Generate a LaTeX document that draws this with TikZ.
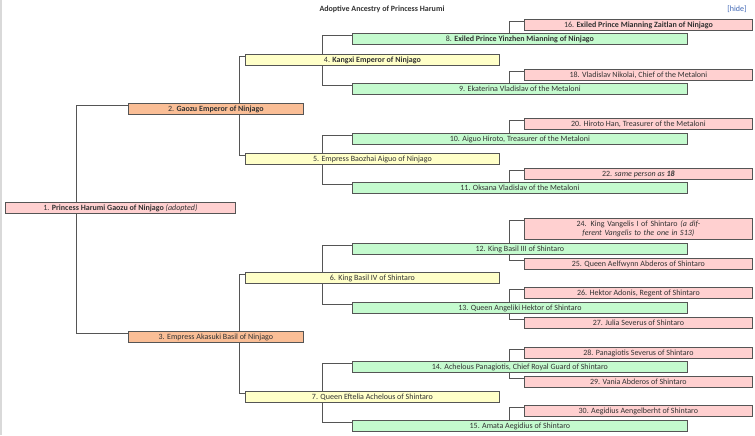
\documentclass[tikz,border=0pt]{standalone}
\usepackage{fontspec}
\setmainfont{Carlito}
\usetikzlibrary{backgrounds}
\definecolor{pinkbox}{RGB}{255,208,208}
\definecolor{orangebox}{RGB}{250,190,150}
\definecolor{yellowbox}{RGB}{255,255,200}
\definecolor{greenbox}{RGB}{196,250,206}
\definecolor{edge}{RGB}{85,85,85}
\definecolor{txt}{RGB}{50,50,50}
\definecolor{hidelink}{RGB}{60,100,180}
\tikzset{
  gen/.style={draw=edge, line width=0.6pt, anchor=north west, inner sep=0pt,
    minimum height=8.6pt, text=txt, font=\fontsize{6}{7}\selectfont},
  gen1/.style={gen, fill=pinkbox, minimum width=172.5pt},
  gen2/.style={gen, fill=orangebox, minimum width=131.25pt},
  gen3/.style={gen, fill=yellowbox, minimum width=190.5pt},
  gen4/.style={gen, fill=greenbox, minimum width=251.25pt},
  gen5/.style={gen, fill=pinkbox, minimum width=171pt},
  link/.style={draw=edge, line width=0.6pt}
}

\begin{document}
\begin{tikzpicture}[x=0.75pt,y=-0.75pt]
   \useasboundingbox (0,0) rectangle (755,435);
   \fill[black!15] (0,0) rectangle (2,435);

   \node[font=\fontsize{6}{7}\selectfont\bfseries, text=txt] (title) at (382,9) {Adoptive Ancestry of Princess Harumi};
   \node[font=\fontsize{6}{7}\selectfont, text=hidelink] (hide) at (737,9) {[hide]};

   \node[gen1] (n1) at (5,202) {1. \textbf{Princess Harumi Gaozu of Ninjago} \textit{(adopted)}};

   \node[gen2] (n2) at (128,103) {2. \textbf{Gaozu Emperor of Ninjago}};
   \node[gen2] (n3) at (128,331) {3. Empress Akasuki Basil of Ninjago};

   \node[gen3] (n4) at (245,54) {4. \textbf{Kangxi Emperor of Ninjago}};
   \node[gen3] (n5) at (245,153) {5. Empress Baozhai Aiguo of Ninjago};
   \node[gen3] (n6) at (245,272) {6. King Basil IV of Shintaro};
   \node[gen3] (n7) at (245,391) {7. Queen Eftelia Achelous of Shintaro};

   \node[gen4] (n8) at (352,33) {8. \textbf{Exiled Prince Yinzhen Mianning of Ninjago}};
   \node[gen4] (n9) at (352,83) {9. Ekaterina Vladislav of the Metaloni};
   \node[gen4] (n10) at (352,133) {10. Aiguo Hiroto, Treasurer of the Metaloni};
   \node[gen4] (n11) at (352,182) {11. Oksana Vladislav of the Metaloni};
   \node[gen4] (n12) at (352,243) {12. King Basil III of Shintaro};
   \node[gen4] (n13) at (352,302) {13. Queen Angeliki Hektor of Shintaro};
   \node[gen4] (n14) at (352,361) {14. Achelous Panagiotis, Chief Royal Guard of Shintaro};
   \node[gen4] (n15) at (352,420) {15. Amata Aegidius of Shintaro};

   \node[gen5] (n16) at (524,19) {16. \textbf{Exiled Prince Mianning Zaitlan of Ninjago}};
   \node[gen5] (n18) at (524,69) {18. Vladislav Nikolai, Chief of the Metaloni};
   \node[gen5] (n20) at (524,118) {20. Hiroto Han, Treasurer of the Metaloni};
   \node[gen5] (n22) at (524,168) {22. \textit{same person as \textbf{18}}};
   \node[gen5, minimum height=15.75pt, text width=165pt, align=center] (n24) at (524,218)
      {24. King Vangelis I of Shintaro \textit{(a different Vangelis to the one in S13)}};
   \node[gen5] (n25) at (524,258) {25. Queen Aelfwynn Abderos of Shintaro};
   \node[gen5] (n26) at (524,287) {26. Hektor Adonis, Regent of Shintaro};
   \node[gen5] (n27) at (524,317) {27. Julia Severus of Shintaro};
   \node[gen5] (n28) at (524,347) {28. Panagiotis Severus of Shintaro};
   \node[gen5] (n29) at (524,376) {29. Vania Abderos of Shintaro};
   \node[gen5] (n30) at (524,405) {30. Aegidius Aengelberht of Shintaro};

   % brackets from child to parent
   \begin{scope}[on background layer]
      \foreach \c/\p/\dx in {n2/n1/71, n3/n1/71,
                             n4/n2/111, n5/n2/111, n6/n3/111, n7/n3/111,
                             n8/n4/77, n9/n4/77, n10/n5/77, n11/n5/77,
                             n12/n6/77, n13/n6/77, n14/n7/77, n15/n7/77,
                             n16/n8/157, n18/n9/157, n20/n10/157, n22/n11/157,
                             n24/n12/157, n25/n12/157, n26/n13/157, n27/n13/157,
                             n28/n14/157, n29/n14/157, n30/n15/157}
         \path[link] ([yshift=-1.5pt]\c.north west) -| ([xshift=\dx*0.75pt]\p.west);
   \end{scope}
\end{tikzpicture}
\end{document}
